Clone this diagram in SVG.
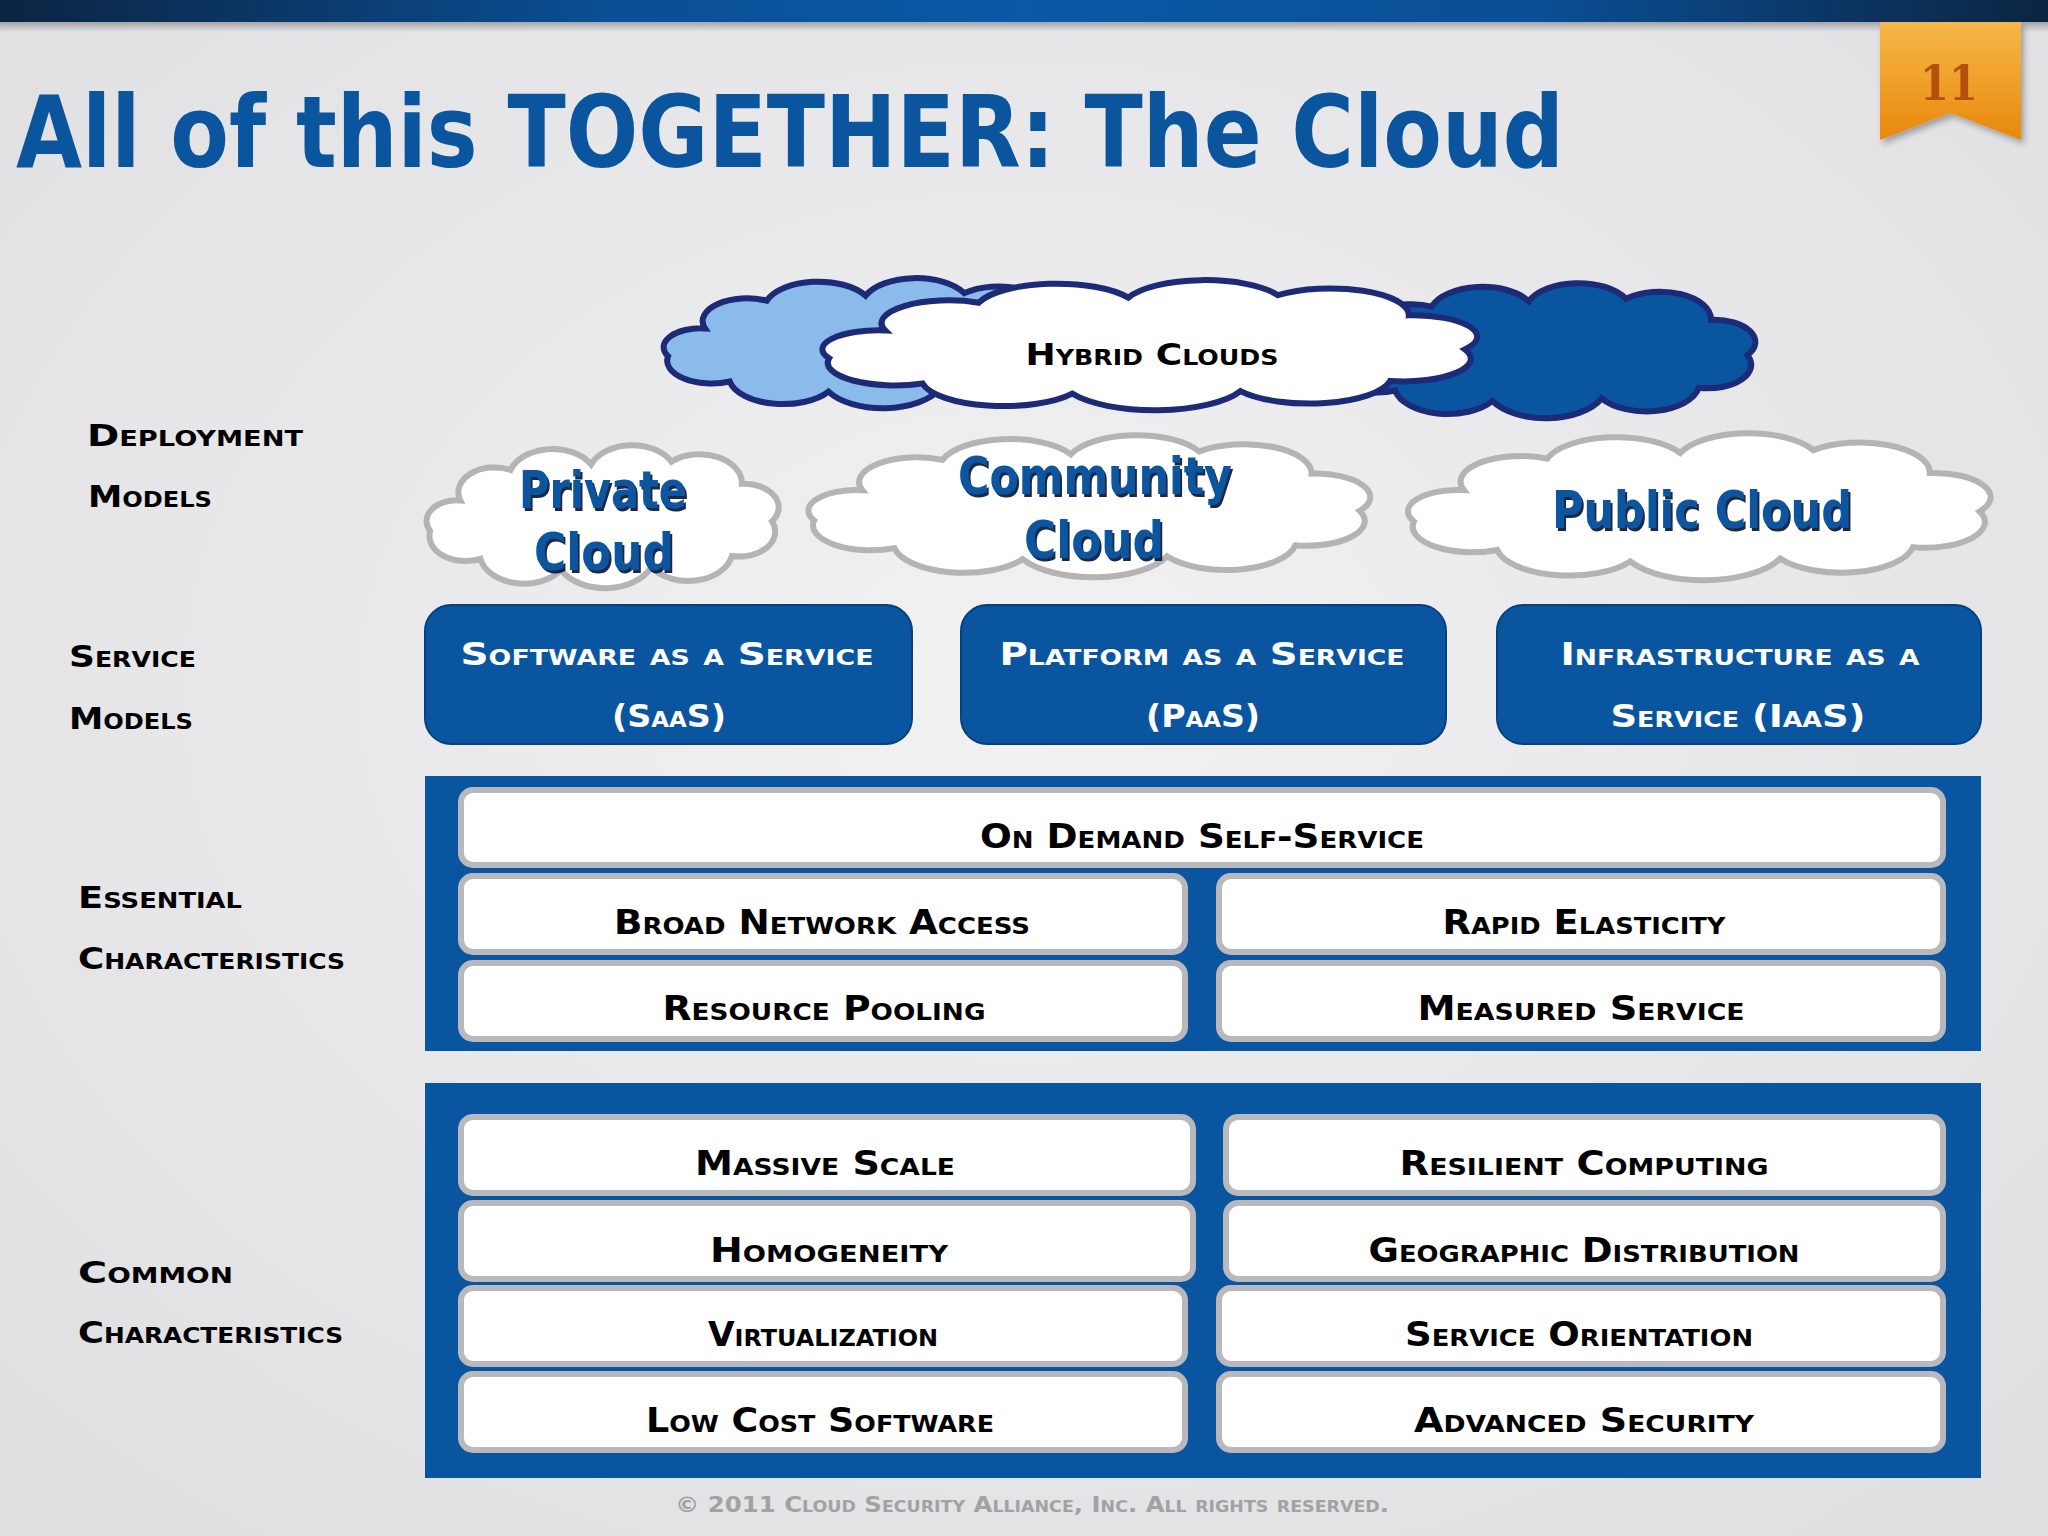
<svg xmlns="http://www.w3.org/2000/svg" xmlns:xlink="http://www.w3.org/1999/xlink" width="2048" height="1536" viewBox="0 0 2048 1536">
<defs>
<radialGradient id="bg" cx="0.5" cy="0.45" r="0.75">
<stop offset="0" stop-color="#f2f2f3"/>
<stop offset="1" stop-color="#dedde0"/>
</radialGradient>
<linearGradient id="bar" x1="0" y1="0" x2="1" y2="0">
<stop offset="0" stop-color="#0b2442"/>
<stop offset="0.3" stop-color="#0a4f95"/>
<stop offset="0.5" stop-color="#0a58a6"/>
<stop offset="0.75" stop-color="#0a4f95"/>
<stop offset="1" stop-color="#0b2442"/>
</linearGradient>
<linearGradient id="barShadow" x1="0" y1="0" x2="0" y2="1">
<stop offset="0" stop-color="#8a8a8e" stop-opacity="0.7"/>
<stop offset="1" stop-color="#8a8a8e" stop-opacity="0"/>
</linearGradient>
<linearGradient id="ribbon" x1="0" y1="0" x2="0" y2="1">
<stop offset="0" stop-color="#f6b848"/>
<stop offset="1" stop-color="#e8880c"/>
</linearGradient>
<filter id="ds" x="-10%" y="-10%" width="130%" height="140%">
<feDropShadow dx="2" dy="3" stdDeviation="0.6" flood-color="#0a1a40" flood-opacity="0.95"/>
</filter>
<filter id="soft" x="-10%" y="-10%" width="130%" height="140%">
<feDropShadow dx="3" dy="4" stdDeviation="3" flood-color="#000" flood-opacity="0.3"/>
</filter>
<path id="cloudShape" vector-effect="non-scaling-stroke" d="M30,40 A18,18 0 0 1 55,18 A22,22 0 0 1 95,14 A22,22 0 0 1 135,12 A21,21 0 0 1 170,28 A17,17 0 0 1 185,55 A18,18 0 0 1 165,80 A22,22 0 0 1 125,88 A25,25 0 0 1 80,90 A22,22 0 0 1 40,82 A18,18 0 0 1 15,62 A15,15 0 0 1 30,40 Z"/>
</defs>
<style>
.sc{font-family:"DejaVu Sans","Liberation Sans",sans-serif;font-weight:bold;font-variant:small-caps;}
.lbl{font-size:30px;fill:#000;}
.wt{font-size:32px;fill:#fff;}
.bk{font-size:33px;fill:#000;}
.cond{font-family:"DejaVu Sans Condensed","DejaVu Sans","Liberation Sans",sans-serif;font-weight:bold;font-stretch:condensed;fill:#0b559f;}
.cloudTxt{font-size:52px;}
.panel{fill:#0a55a0;}
.sbox{fill:#0a55a0;stroke:#083f7c;stroke-width:2;}
.ibox{fill:#fff;stroke:#b9b9bd;stroke-width:6;}
.gcloud{fill:#fff;stroke:#b4b4b6;stroke-width:6;}
.hcloud{stroke:#1d2a78;stroke-width:6;}
</style>
<rect width="2048" height="1536" fill="url(#bg)"/>
<rect x="0" y="22" width="2048" height="10" fill="url(#barShadow)"/>
<rect x="0" y="0" width="2048" height="22" fill="url(#bar)"/>

<g id="title">
<text x="16" y="167" class="cond" font-size="100" textLength="1548" lengthAdjust="spacingAndGlyphs">All of this TOGETHER: The Cloud</text>
</g>

<g id="badge" filter="url(#soft)">
<path d="M1880,22 H2021 V140 L1950.5,113 L1880,140 Z" fill="url(#ribbon)"/>
<text x="1949" y="100" text-anchor="middle" font-family="DejaVu Serif,Liberation Serif,serif" font-weight="bold" font-size="48" fill="#b5500e" textLength="58" lengthAdjust="spacingAndGlyphs">11</text>
</g>

<g id="hybrid-clouds">
<use xlink:href="#cloudShape" class="hcloud" fill="#8bbbea" transform="translate(631,278) scale(2.469,1.262)"/>
<use xlink:href="#cloudShape" class="hcloud" fill="#0a55a0" transform="translate(1298,283) scale(2.429,1.311)"/>
<use xlink:href="#cloudShape" class="hcloud" fill="#ffffff" transform="translate(773,280) scale(3.74,1.262)"/>
<text x="1152" y="365" text-anchor="middle" class="sc" font-size="30" fill="#000" textLength="253" lengthAdjust="spacingAndGlyphs">Hybrid Clouds</text>
</g>

<g id="private-cloud">
<use xlink:href="#cloudShape" class="gcloud" transform="translate(400,445) scale(2.011,1.388)"/>
<text x="603" y="508" text-anchor="middle" class="cond cloudTxt" filter="url(#ds)" textLength="168" lengthAdjust="spacingAndGlyphs">Private</text>
<text x="604" y="570" text-anchor="middle" class="cond cloudTxt" filter="url(#ds)" textLength="140" lengthAdjust="spacingAndGlyphs">Cloud</text>
</g>

<g id="community-cloud">
<use xlink:href="#cloudShape" class="gcloud" transform="translate(766,435) scale(3.209,1.379)"/>
<text x="1095" y="494" text-anchor="middle" class="cond cloudTxt" filter="url(#ds)" textLength="274" lengthAdjust="spacingAndGlyphs">Community</text>
<text x="1094" y="558" text-anchor="middle" class="cond cloudTxt" filter="url(#ds)" textLength="140" lengthAdjust="spacingAndGlyphs">Cloud</text>
</g>

<g id="public-cloud">
<use xlink:href="#cloudShape" class="gcloud" transform="translate(1364,433) scale(3.328,1.427)"/>
<text x="1702" y="528" text-anchor="middle" class="cond cloudTxt" filter="url(#ds)" textLength="300" lengthAdjust="spacingAndGlyphs">Public Cloud</text>
</g>

<g id="label-deployment-models">
<text x="87" y="446" class="sc lbl" textLength="216" lengthAdjust="spacingAndGlyphs">Deployment</text>
<text x="88" y="507" class="sc lbl" textLength="124" lengthAdjust="spacingAndGlyphs">Models</text>
</g>
<g id="label-service-models">
<text x="69" y="667" class="sc lbl" textLength="127" lengthAdjust="spacingAndGlyphs">Service</text>
<text x="69" y="729" class="sc lbl" textLength="124" lengthAdjust="spacingAndGlyphs">Models</text>
</g>
<g id="label-essential-characteristics">
<text x="78" y="908" class="sc lbl" textLength="164" lengthAdjust="spacingAndGlyphs">Essential</text>
<text x="78" y="969" class="sc lbl" textLength="267" lengthAdjust="spacingAndGlyphs">Characteristics</text>
</g>
<g id="label-common-characteristics">
<text x="78" y="1283" class="sc lbl" textLength="155" lengthAdjust="spacingAndGlyphs">Common</text>
<text x="78" y="1343" class="sc lbl" textLength="265" lengthAdjust="spacingAndGlyphs">Characteristics</text>
</g>

<g id="saas">
<rect x="425" y="605" width="487" height="139" rx="26" class="sbox"/>
<text x="667" y="665" text-anchor="middle" class="sc wt" textLength="413" lengthAdjust="spacingAndGlyphs">Software as a Service</text>
<text x="669" y="727" text-anchor="middle" class="sc wt" textLength="114" lengthAdjust="spacingAndGlyphs">(SaaS)</text>
</g>
<g id="paas">
<rect x="961" y="605" width="485" height="139" rx="26" class="sbox"/>
<text x="1202" y="665" text-anchor="middle" class="sc wt" textLength="405" lengthAdjust="spacingAndGlyphs">Platform as a Service</text>
<text x="1203" y="727" text-anchor="middle" class="sc wt" textLength="114" lengthAdjust="spacingAndGlyphs">(PaaS)</text>
</g>
<g id="iaas">
<rect x="1497" y="605" width="484" height="139" rx="26" class="sbox"/>
<text x="1740" y="665" text-anchor="middle" class="sc wt" textLength="359" lengthAdjust="spacingAndGlyphs">Infrastructure as a</text>
<text x="1738" y="727" text-anchor="middle" class="sc wt" textLength="255" lengthAdjust="spacingAndGlyphs">Service (IaaS)</text>
</g>

<g id="essential-characteristics">
<rect x="425" y="776" width="1556" height="275" class="panel"/>
<g id="on-demand-self-service">
<rect x="461" y="790" width="1482" height="75" rx="12" class="ibox"/>
<text x="1202" y="848" text-anchor="middle" class="sc bk" textLength="444" lengthAdjust="spacingAndGlyphs">On Demand Self-Service</text>
</g>
<g id="broad-network-access">
<rect x="461" y="876" width="724" height="76" rx="12" class="ibox"/>
<text x="822" y="934" text-anchor="middle" class="sc bk" textLength="416" lengthAdjust="spacingAndGlyphs">Broad Network Access</text>
</g>
<g id="rapid-elasticity">
<rect x="1219" y="876" width="724" height="76" rx="12" class="ibox"/>
<text x="1584" y="934" text-anchor="middle" class="sc bk" textLength="283" lengthAdjust="spacingAndGlyphs">Rapid Elasticity</text>
</g>
<g id="resource-pooling">
<rect x="461" y="963" width="724" height="76" rx="12" class="ibox"/>
<text x="824" y="1020" text-anchor="middle" class="sc bk" textLength="323" lengthAdjust="spacingAndGlyphs">Resource Pooling</text>
</g>
<g id="measured-service">
<rect x="1219" y="963" width="724" height="76" rx="12" class="ibox"/>
<text x="1581" y="1020" text-anchor="middle" class="sc bk" textLength="327" lengthAdjust="spacingAndGlyphs">Measured Service</text>
</g>
</g>

<g id="common-characteristics">
<rect x="425" y="1083" width="1556" height="395" class="panel"/>
<g id="massive-scale">
<rect x="461" y="1117" width="732" height="76" rx="12" class="ibox"/>
<text x="825" y="1175" text-anchor="middle" class="sc bk" textLength="260" lengthAdjust="spacingAndGlyphs">Massive Scale</text>
</g>
<g id="resilient-computing">
<rect x="1226" y="1117" width="717" height="76" rx="12" class="ibox"/>
<text x="1584" y="1175" text-anchor="middle" class="sc bk" textLength="369" lengthAdjust="spacingAndGlyphs">Resilient Computing</text>
</g>
<g id="homogeneity">
<rect x="461" y="1203" width="732" height="76" rx="12" class="ibox"/>
<text x="829" y="1262" text-anchor="middle" class="sc bk" textLength="238" lengthAdjust="spacingAndGlyphs">Homogeneity</text>
</g>
<g id="geographic-distribution">
<rect x="1226" y="1203" width="717" height="76" rx="12" class="ibox"/>
<text x="1584" y="1262" text-anchor="middle" class="sc bk" textLength="431" lengthAdjust="spacingAndGlyphs">Geographic Distribution</text>
</g>
<g id="virtualization">
<rect x="461" y="1288" width="724" height="76" rx="12" class="ibox"/>
<text x="823" y="1346" text-anchor="middle" class="sc bk" textLength="230" lengthAdjust="spacingAndGlyphs">Virtualization</text>
</g>
<g id="service-orientation">
<rect x="1219" y="1288" width="724" height="76" rx="12" class="ibox"/>
<text x="1579" y="1346" text-anchor="middle" class="sc bk" textLength="348" lengthAdjust="spacingAndGlyphs">Service Orientation</text>
</g>
<g id="low-cost-software">
<rect x="461" y="1374" width="724" height="76" rx="12" class="ibox"/>
<text x="820" y="1432" text-anchor="middle" class="sc bk" textLength="348" lengthAdjust="spacingAndGlyphs">Low Cost Software</text>
</g>
<g id="advanced-security">
<rect x="1219" y="1374" width="724" height="76" rx="12" class="ibox"/>
<text x="1584" y="1432" text-anchor="middle" class="sc bk" textLength="340" lengthAdjust="spacingAndGlyphs">Advanced Security</text>
</g>
</g>

<g id="connectors"></g>

<g id="footer">
<text x="1032" y="1512" text-anchor="middle" class="sc" font-size="21" fill="#a2a2a4" textLength="714" lengthAdjust="spacingAndGlyphs">© 2011 Cloud Security Alliance, Inc. All rights reserved.</text>
</g>
</svg>
